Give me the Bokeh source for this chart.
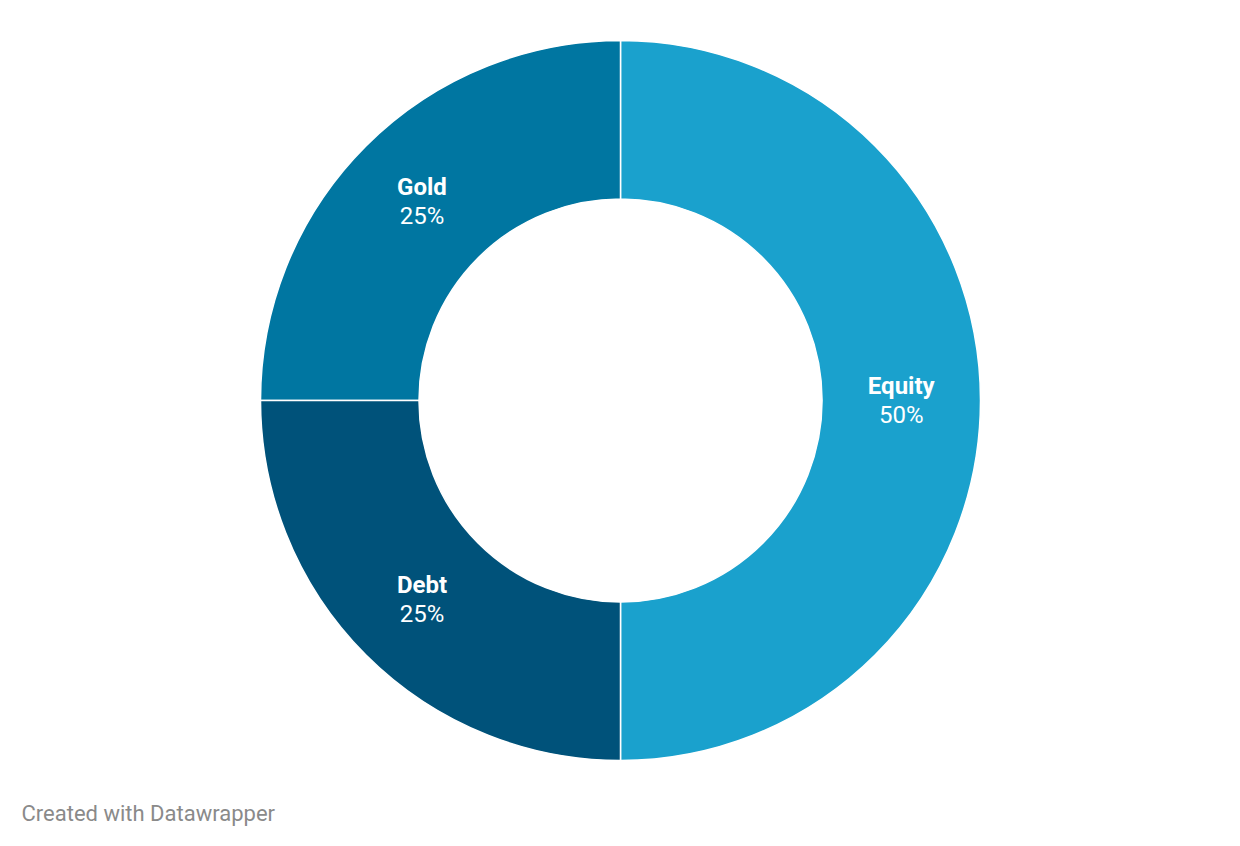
import math
from bokeh.plotting import figure
from bokeh.models import ColumnDataSource, Range1d
from bokeh.core.properties import value
from bokeh.embed import file_html
from bokeh.resources import INLINE

categories = ["Equity", "Gold", "Debt"]
shares = [50, 25, 25]
colors = ["#1aa1cd", "#0076a1", "#00527a"]
footer = "Created with Datawrapper"

W, H = 1224, 830
cx, cy = 620, H - 400
r_out, r_in = 360, 201.5

total = sum(shares)
starts, ends = [], []
a = -math.pi / 2
for s in shares:
    span = 2 * math.pi * s / total
    starts.append(a)
    ends.append(a + span)
    a += span

mid = [(s + e) / 2 for s, e in zip(starts, ends)]
r_lab = (r_in + r_out) / 2
lx = [cx + r_lab * math.cos(m) for m in mid]
ly = [cy + r_lab * math.sin(m) for m in mid]

src = ColumnDataSource(dict(start=starts, end=ends, color=colors,
                            name=categories, pct=[f"{v}%" for v in shares],
                            lx=lx, ly_top=[y + 14.5 for y in ly], ly_bot=[y - 14.5 for y in ly]))

p = figure(width=W, height=H, output_backend="svg", toolbar_location=None,
           x_range=Range1d(0, W), y_range=Range1d(0, H), min_border=0)
p.axis.visible = False
p.grid.visible = False
p.outline_line_color = None
p.background_fill_color = "white"

p.annular_wedge(x=cx, y=cy, inner_radius=r_in, outer_radius=r_out,
                start_angle="start", end_angle="end", fill_color="color",
                line_color="white", line_width=1.5, source=src)

p.text(x="lx", y="ly_top", text="name", source=src, text_align="center",
       text_baseline="middle", text_color="white", text_font=value("Roboto"),
       text_font_style="bold", text_font_size="24px")
p.text(x="lx", y="ly_bot", text="pct", source=src, text_align="center",
       text_baseline="middle", text_color="white", text_font=value("Roboto"),
       text_font_size="24px")

p.text(x=[21], y=[H - 813], text=[footer], text_align="left",
       text_baseline="middle", text_color="#8a8a8a", text_font=value("Roboto"),
       text_font_size="22px")

open("out.html", "w").write(file_html(p, INLINE))
